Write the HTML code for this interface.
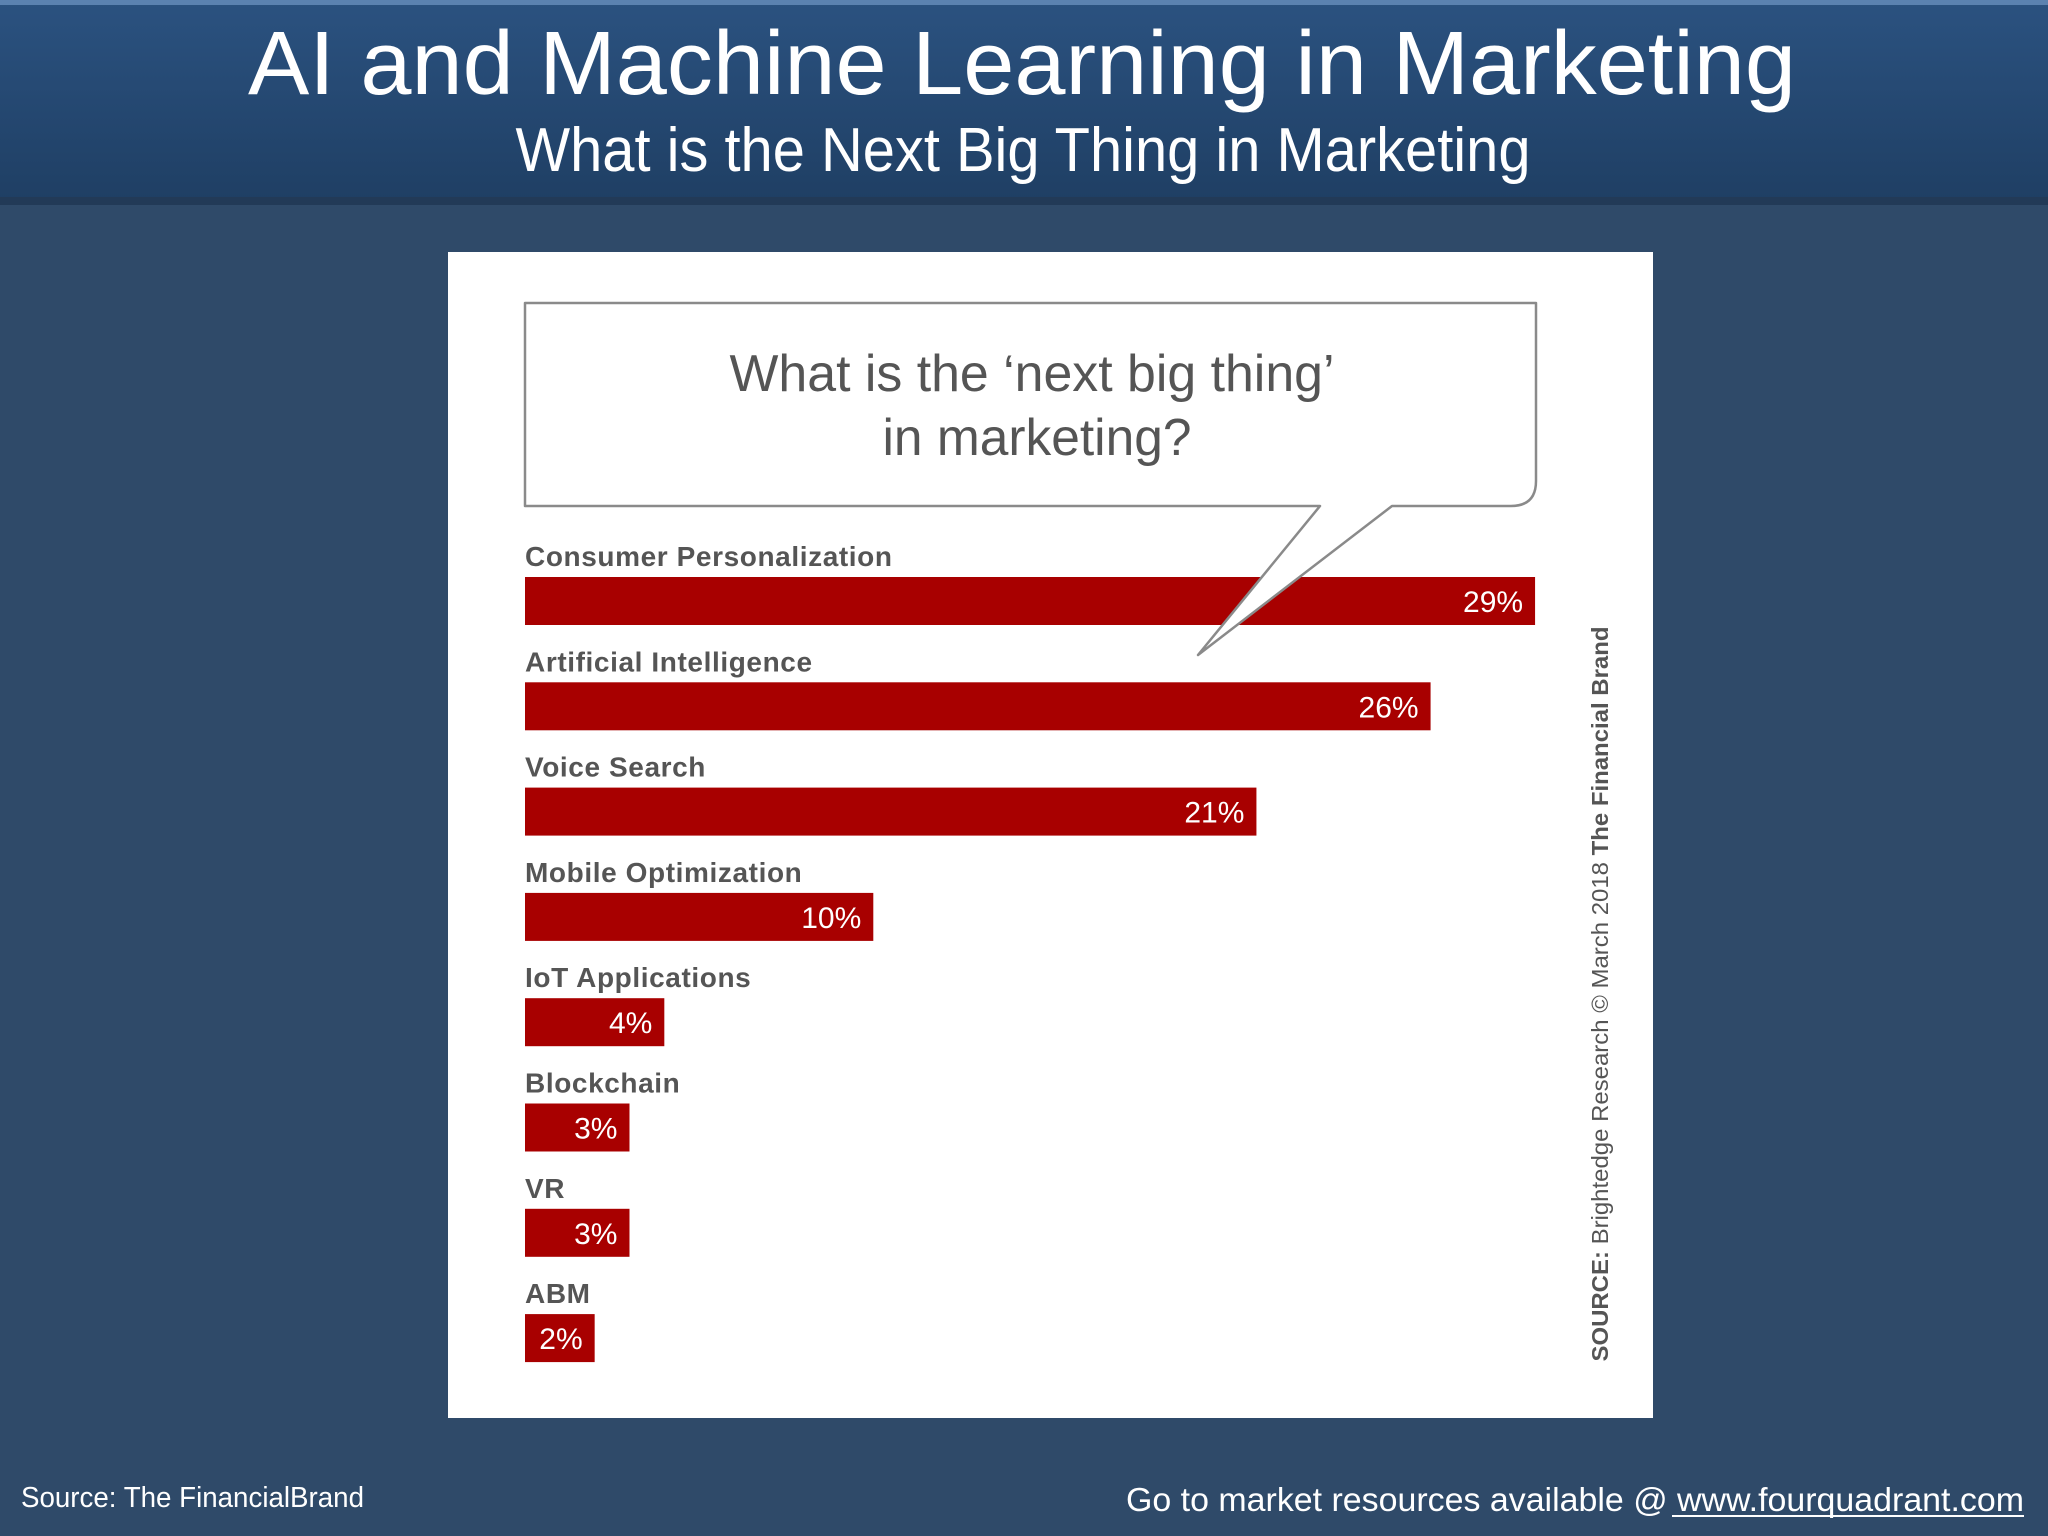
<!DOCTYPE html>
<html><head><meta charset="utf-8"><style>
html,body{margin:0;padding:0;width:2048px;height:1536px;overflow:hidden;background:#2f4a69;}
svg{display:block}
</style></head><body>
<svg width="2048" height="1536" viewBox="0 0 2048 1536" xmlns="http://www.w3.org/2000/svg" font-family="'Liberation Sans', sans-serif">
<defs>
<linearGradient id="hg" x1="0" y1="0" x2="0" y2="1">
<stop offset="0" stop-color="#2b5280"/><stop offset="1" stop-color="#1f3f64"/>
</linearGradient>
</defs>
<rect x="0" y="0" width="2048" height="1536" fill="#2f4a69"/>
<g>
<rect x="0" y="0" width="2048" height="200" fill="url(#hg)"/>
<rect x="0" y="0" width="2048" height="5" fill="#5b82b0"/>
<rect x="0" y="197" width="2048" height="8" fill="#223a57"/>
<text x="1022" y="94" text-anchor="middle" font-size="90" fill="#fff" textLength="1548" lengthAdjust="spacingAndGlyphs">AI and Machine Learning in Marketing</text>
<text x="1023" y="171" text-anchor="middle" font-size="62" fill="#fff" textLength="1015" lengthAdjust="spacingAndGlyphs">What is the Next Big Thing in Marketing</text>
</g>
<rect x="448" y="252" width="1205" height="1166" fill="#fff"/>
<g id="bars"></g>
<g>
<path d="M525 303 H1536 V481 Q1536 506 1511 506 H1392 L1198 655 L1320 506 H525 Z" fill="#fff" stroke="#8a8a8a" stroke-width="2.5" stroke-linejoin="round"/>
<text x="1032" y="391" text-anchor="middle" font-size="52" fill="#555" textLength="605" lengthAdjust="spacingAndGlyphs">What is the ‘next big thing’</text>
<text x="1037" y="455" text-anchor="middle" font-size="52" fill="#555" textLength="309" lengthAdjust="spacingAndGlyphs">in marketing?</text>
</g>
<text transform="translate(1608,994) rotate(-90)" text-anchor="middle" font-size="23" fill="#555" textLength="735" lengthAdjust="spacingAndGlyphs"><tspan font-weight="bold">SOURCE:</tspan> Brightedge Research © March 2018 <tspan font-weight="bold">The Financial Brand</tspan></text>
<text x="21" y="1507" font-size="29" fill="#fff" textLength="343" lengthAdjust="spacingAndGlyphs">Source: The FinancialBrand</text>
<text x="1126" y="1511" font-size="33" fill="#fff" textLength="898" lengthAdjust="spacingAndGlyphs">Go to market resources available @ www.fourquadrant.com</text>
<rect x="1672" y="1515" width="352" height="2" fill="#fff"/>
</svg>
<script>
const categories = ["Consumer Personalization","Artificial Intelligence","Voice Search","Mobile Optimization","IoT Applications","Blockchain","VR","ABM"];
const values = [29,26,21,10,4,3,3,2];
const valueLabels = ["29%","26%","21%","10%","4%","3%","3%","2%"];
const NS="http://www.w3.org/2000/svg";
const x0=525, pxPer=34.83, top0=577, pitch=105.3, barH=48;
function xScale(v){return x0+v*pxPer;}
function yBand(i){return top0+i*pitch;}
const g=document.getElementById('bars');
categories.forEach((c,i)=>{
  const y=yBand(i);
  const lab=document.createElementNS(NS,'text');
  lab.setAttribute('x',x0);lab.setAttribute('y',y-11);lab.setAttribute('font-size','28');lab.setAttribute('fill','#555');
  lab.setAttribute('letter-spacing','0.6');lab.setAttribute('font-weight','600');
  lab.textContent=c;
  
  
  g.appendChild(lab);
  const r=document.createElementNS(NS,'rect');
  r.setAttribute('x',x0);r.setAttribute('y',y);r.setAttribute('width',xScale(values[i])-x0);r.setAttribute('height',barH);r.setAttribute('fill','#a80000');
  
  
  g.appendChild(r);
  const t=document.createElementNS(NS,'text');
  t.setAttribute('x',xScale(values[i])-12);t.setAttribute('y',y+35);t.setAttribute('font-size','30');t.setAttribute('fill','#fff');t.setAttribute('text-anchor','end');
  t.textContent=valueLabels[i];
  
  
  g.appendChild(t);
});
</script>
</body></html>
